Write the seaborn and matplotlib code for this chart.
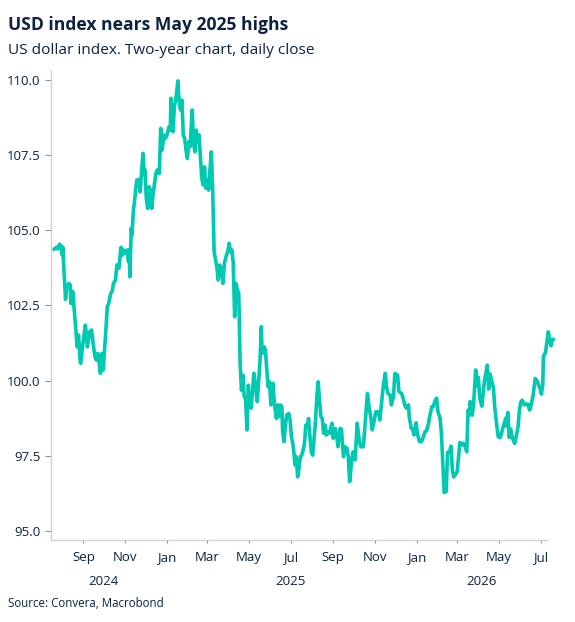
import numpy as np
import pandas as pd
import matplotlib
matplotlib.use("Agg")
import matplotlib.pyplot as plt
import matplotlib.dates as mdates
import matplotlib.transforms as mtransforms
import seaborn as sns

# ---------------- data ----------------
base_date = "2024-07-01"
day_offsets = [
    19, 23, 25, 27, 30, 31, 32, 36, 38, 41, 43, 44, 47, 48, 53, 55, 57, 58, 62, 65,
    68, 71, 74, 76, 79, 81, 83, 85, 87, 89, 91, 94, 97, 99, 102, 104, 106, 109, 111, 114,
    117, 119, 121, 124, 126, 128, 129, 130, 132, 133, 135, 138, 140, 143, 145, 147, 149, 151, 152, 154,
    156, 158, 160, 162, 164, 168, 170, 173, 175, 177, 180, 182, 185, 187, 189, 190, 193, 195, 198, 200,
    202, 204, 206, 208, 210, 212, 214, 216, 218, 221, 223, 225, 227, 229, 231, 233, 235, 237, 239, 241,
    243, 245, 247, 249, 251, 253, 257, 259, 261, 263, 266, 268, 271, 273, 275, 277, 279, 281, 283, 285,
    287, 289, 291, 293, 295, 297, 299, 301, 303, 304, 307, 309, 311, 314, 316, 318, 320, 322, 323, 326,
    328, 330, 332, 334, 336, 338, 339, 341, 344, 346, 348, 350, 352, 353, 355, 357, 359, 362, 364, 366,
    368, 370, 371, 373, 375, 377, 379, 381, 383, 385, 387, 389, 391, 393, 395, 397, 399, 401, 403, 405,
    407, 409, 411, 413, 415, 417, 420, 422, 425, 427, 430, 432, 434, 437, 439, 442, 444, 447, 449, 451,
    454, 456, 459, 462, 465, 467, 471, 474, 477, 479, 482, 484, 487, 489, 493, 495, 498, 500, 503, 505,
    507, 510, 512, 515, 517, 521, 523, 527, 529, 532, 534, 537, 538, 541, 543, 545, 548, 550, 553, 556,
    559, 561, 563, 566, 568, 571, 573, 576, 578, 580, 583, 585, 587, 589, 592, 594, 597, 599, 601, 603,
    606, 608, 612, 615, 617, 619, 622, 624, 626, 627, 630, 632, 635, 637, 639, 641, 644, 646, 648, 650,
    652, 654, 656, 659, 661, 663, 666, 668, 671, 674, 676, 679, 680, 682, 684, 686, 689, 692, 694, 697,
    699, 701, 703, 706, 709, 711, 714, 716, 719, 722, 725, 727, 730, 731, 733, 734, 737, 739, 741, 743,
    745, 747, 749,
]
usd_index = [
    104.36, 104.43, 104.37, 104.53, 104.47, 104.17, 104.43, 102.70, 103.12, 103.23, 103.17, 102.56, 102.95, 102.57, 101.12, 101.51, 100.74, 100.57, 101.35, 101.84,
    101.12, 101.62, 101.68, 101.29, 100.79, 100.68, 100.90, 100.62, 100.24, 100.90, 100.35, 101.35, 102.45, 102.56, 102.90, 102.95, 103.23, 103.34, 103.84, 103.73,
    104.43, 104.17, 104.34, 104.23, 104.34, 103.95, 104.34, 103.45, 105.06, 104.83, 105.61, 106.22, 106.66, 106.68, 106.27, 106.88, 107.55, 106.88, 107.00, 106.05,
    105.72, 106.44, 106.33, 105.72, 106.22, 106.88, 107.00, 106.88, 108.38, 107.66, 108.16, 108.05, 108.21, 108.43, 108.32, 109.38, 108.27, 109.10, 109.49, 109.96,
    109.26, 108.99, 109.32, 108.16, 108.05, 107.66, 107.38, 107.93, 107.77, 108.99, 107.88, 107.60, 108.32, 107.93, 108.16, 107.44, 106.72, 106.50, 107.10, 106.39,
    106.66, 106.33, 107.00, 107.60, 106.30, 104.28, 103.78, 103.34, 103.84, 103.73, 103.23, 103.89, 104.17, 104.28, 104.56, 104.28, 104.34, 103.89, 102.12, 103.23,
    103.01, 102.90, 100.57, 99.68, 100.18, 99.46, 99.41, 98.36, 99.85, 99.57, 99.08, 99.57, 100.24, 99.79, 99.30, 99.96, 100.62, 101.79, 100.90, 101.12,
    101.01, 100.35, 99.79, 99.96, 99.19, 99.85, 99.91, 99.24, 98.74, 99.19, 98.80, 99.19, 99.13, 98.36, 97.97, 98.47, 98.85, 98.91, 98.69, 98.13,
    97.91, 97.52, 97.19, 97.47, 96.80, 97.08, 97.47, 97.52, 97.69, 97.91, 98.52, 98.47, 98.74, 98.13, 97.63, 97.52, 98.08, 98.58, 99.46, 99.96,
    99.35, 98.80, 98.74, 98.25, 98.52, 98.19, 98.30, 98.25, 98.58, 98.08, 98.41, 98.17, 97.80, 98.41, 98.38, 97.47, 97.80, 97.75, 97.47, 96.64,
    97.36, 97.63, 97.36, 98.58, 98.02, 97.80, 97.80, 98.69, 99.57, 99.19, 98.74, 98.36, 98.69, 98.96, 98.96, 98.69, 99.35, 99.79, 100.24, 99.75,
    99.57, 99.52, 99.19, 99.46, 100.24, 100.18, 99.63, 99.57, 99.41, 99.15, 99.08, 99.19, 98.80, 98.41, 98.39, 98.19, 98.60, 98.22, 97.97, 97.97,
    98.16, 98.30, 98.32, 98.55, 98.82, 99.13, 99.13, 99.35, 99.41, 98.96, 98.75, 98.25, 97.30, 96.28, 96.31, 97.62, 97.63, 97.82, 97.03, 96.80,
    96.89, 96.97, 97.94, 97.86, 97.91, 97.86, 97.63, 99.02, 98.85, 99.30, 98.85, 99.22, 100.35, 99.82, 100.10, 99.42, 99.15, 99.58, 100.02, 100.25,
    100.51, 99.72, 100.22, 99.93, 99.75, 99.09, 98.49, 98.13, 98.11, 98.36, 98.52, 98.75, 98.49, 98.94, 98.11, 98.39, 98.08, 97.91, 98.11, 98.47,
    99.02, 99.29, 99.35, 99.19, 99.22, 99.22, 99.02, 99.19, 99.52, 100.07, 99.98, 99.85, 99.68, 99.55, 99.85, 100.81, 100.93, 101.26, 101.62, 101.40,
    101.15, 101.37, 101.37,
]
y_ticks = [95.0, 97.5, 100.0, 102.5, 105.0, 107.5, 110.0]
year_labels = ["2024", "2025", "2026"]
year_label_dates = ["2024-09-30", "2025-07-01", "2026-04-06"]

title = "USD index nears May 2025 highs"
subtitle = "US dollar index. Two-year chart, daily close"
source = "Source: Convera, Macrobond"

# ---------------- styling ----------------
sns.set_theme(style="white")
plt.rcParams["font.family"] = ["Open Sans", "DejaVu Sans"]

NAVY = "#0d2240"
TEAL = "#00c9b2"
SPINE = "#cfd3d8"
TICK = "#8c929c"

base = pd.Timestamp(base_date)
df = pd.DataFrame({
    "date": base + pd.to_timedelta(day_offsets, unit="D"),
    "value": usd_index,
})

fig = plt.figure(figsize=(5.75, 6.22), dpi=100)
ax = fig.add_axes([0.0887, 0.1318, 0.8783, 0.7556])

sns.lineplot(data=df, x="date", y="value", ax=ax, color=TEAL, linewidth=2.6)

x_left = base + pd.Timedelta(days=14.8)
x_right = base + pd.Timedelta(days=752.4)
ax.set_xlim(x_left, x_right)
ax.set_ylim(94.70, 110.32)

ax.set_xlabel("")
ax.set_ylabel("")

# y axis
ax.set_yticks(y_ticks)
ax.set_yticklabels([f"{t:.1f}" for t in y_ticks])
ax.tick_params(axis="y", left=True, length=4.5, width=0.8, color=TICK, pad=3,
               labelsize=9.5, labelcolor=NAVY)

# x axis
ax.xaxis.set_major_locator(mdates.MonthLocator(bymonth=[1, 3, 5, 7, 9, 11]))
ax.xaxis.set_major_formatter(mdates.DateFormatter("%b"))
ax.xaxis.set_minor_locator(mdates.MonthLocator(bymonth=[1]))
ax.tick_params(axis="x", which="major", bottom=True, length=2.5, width=0.8, color=TICK,
               pad=5.5, labelsize=9.5, labelcolor=NAVY)
ax.tick_params(axis="x", which="minor", bottom=True, length=4.5, width=0.8, color=TICK)

trans = mtransforms.blended_transform_factory(ax.transData, ax.transAxes)
for lab, d in zip(year_labels, year_label_dates):
    ax.text(mdates.date2num(pd.Timestamp(d)), -0.074, lab, transform=trans,
            ha="center", va="top", fontsize=9.5, color=NAVY)

for s in ["top", "right"]:
    ax.spines[s].set_visible(False)
for s in ["left", "bottom"]:
    ax.spines[s].set_color(SPINE)
    ax.spines[s].set_linewidth(1.0)
ax.spines["bottom"].set_bounds(mdates.date2num(x_left),
                               mdates.date2num(base + pd.Timedelta(days=739)))
ax.grid(False)

fig.text(8 / 575, 1 - 30 / 622, title, fontsize=12.6, fontweight="bold",
         color=NAVY, ha="left", va="baseline")
fig.text(8 / 575, 1 - 54 / 622, subtitle, fontsize=11.1, color=NAVY,
         ha="left", va="baseline")
fig.text(8 / 575, 1 - 607 / 622, source, fontsize=8.3, color=NAVY,
         ha="left", va="baseline")

fig.savefig("out.png", dpi=100)
